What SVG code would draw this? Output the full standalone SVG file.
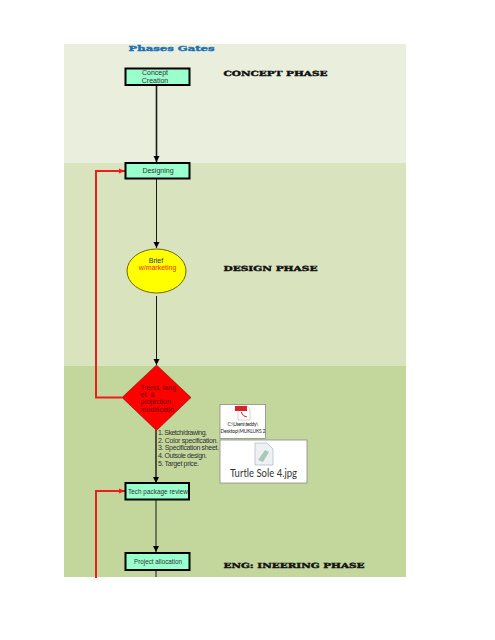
<svg xmlns="http://www.w3.org/2000/svg" width="495" height="640" viewBox="0 0 495 640">
<style>
.n{fill:#99ffcc;stroke:#000;stroke-width:2}
.t{font-family:"Liberation Sans",Arial,sans-serif;font-size:7px;fill:#333;text-anchor:middle}
.d{font-family:"Liberation Sans",Arial,sans-serif;font-size:7px;fill:#6a0a0a}
.l{font-family:"Liberation Sans",Arial,sans-serif;font-size:7px;fill:#333}
.h{font-family:"DejaVu Serif",serif;font-weight:bold;font-size:7px;fill:#111;stroke:#111;stroke-width:.4}
.c{font-family:Lato,sans-serif;fill:#222;text-anchor:middle}
.k{fill:none;stroke:#1a1a1a;stroke-width:1}
.r{fill:none;stroke:#ee1c1c;stroke-width:2}
</style>
<defs>
<marker id="a" markerUnits="userSpaceOnUse" markerWidth="7" markerHeight="7" refX="6" refY="3" orient="auto"><path d="M0 0L6 3L0 6Z" fill="#000"/></marker>
<marker id="b" markerUnits="userSpaceOnUse" markerWidth="7" markerHeight="7" refX="6" refY="3" orient="auto"><path d="M0 0.500L6 3L0 5.500Z" fill="#ee1c1c"/></marker>
</defs>
<rect width="495" height="640" fill="#fff"/>
<g id="bands">
<rect x="64" y="44" width="342" height="119" fill="#e9efdc"/>
<rect x="64" y="163" width="342" height="203" fill="#d9e3bd"/>
<rect x="64" y="366" width="342" height="211" fill="#c3d69b"/>
</g>
<g id="connectors">
<path class="k" style="stroke-width:1.6" d="M156.500 85V162" marker-end="url(#a)"/>
<path class="k" d="M156.500 179V248" marker-end="url(#a)"/>
<path class="k" d="M156.500 296V365" marker-end="url(#a)"/>
<path class="k" style="stroke-width:1.400" d="M156 430V483" marker-end="url(#a)"/>
<path class="k" d="M156 500V552" marker-end="url(#a)"/>
<path class="k" d="M156 571V577"/>
<path class="r" d="M122 397.500H96V171H125" marker-end="url(#b)"/>
<path class="r" d="M96 578V491H125" marker-end="url(#b)"/>
</g>
<text id="title" class="h" x="128.500" y="51" textLength="86" lengthAdjust="spacingAndGlyphs" style="font-size:8px;fill:#1f6fb5;stroke:#1f6fb5">Phases Gates</text>
<g id="concept"><rect class="n" x="125.500" y="68.500" width="64" height="16.500"/><text class="t" x="155" y="74.500">Concept</text><text class="t" x="155" y="82.500">Creation</text></g>
<text class="h" x="223.500" y="75.500" textLength="104" lengthAdjust="spacingAndGlyphs">CONCEPT PHASE</text>
<g id="designing"><rect class="n" x="125.500" y="163" width="64" height="15.500"/><text class="t" x="158" y="173">Designing</text></g>
<g id="brief"><ellipse cx="156.500" cy="271" rx="29.500" ry="22" fill="#ffff00" stroke="#6b6b00" stroke-width="1"/><text class="t" x="156" y="263">Brief</text><text class="t" x="157.500" y="270" style="fill:#ff2a00">w/marketing</text></g>
<text class="h" x="223.500" y="271" textLength="94" lengthAdjust="spacingAndGlyphs">DESIGN PHASE</text>
<g id="decision"><path d="M156.500 365L191 397.500L156.500 430.500L122 397.500Z" fill="#ff0000" stroke="#7a1010" stroke-width="0.600"/>
<text class="d" x="140.500" y="389.500">Trend, Iang</text><text class="d" x="140.500" y="397">et. &amp;</text><text class="d" x="140.500" y="404">projection</text><text class="d" x="140.500" y="411.500">modificatio</text></g>
<g id="list">
<text class="l" x="158" y="434.500" textLength="49">1. Sketch/drawing.</text>
<text class="l" x="158" y="442.500" textLength="60">2. Color specification.</text>
<text class="l" x="158" y="450" textLength="61">3. Specification sheet.</text>
<text class="l" x="158" y="458" textLength="49">4. Outsole design.</text>
<text class="l" x="158" y="466" textLength="41">5. Target price.</text>
</g>
<g id="pdf"><rect x="220" y="404.500" width="45.500" height="34" fill="#fff" stroke="#8a8a8a" stroke-width="0.800"/>
<path d="M238 406H247L250 409V420H238Z" fill="#fff" stroke="#bbb" stroke-width="0.600"/><rect x="235" y="406" width="12" height="5" fill="#d8232a"/><path d="M241 412Q243 417 247 417" fill="none" stroke="#d8232a"/>
<text class="c" x="243" y="426" style="font-size:5px" textLength="31">C:\Users\teddy\</text><text class="c" x="243" y="432.500" style="font-size:5px" textLength="45">Desktop\MUKLUKS 2</text></g>
<g id="jpg"><rect x="220" y="440" width="87" height="43" fill="#fff" stroke="#8a8a8a" stroke-width="0.800"/>
<path d="M255 443H267L273 449V465H255Z" fill="#eef1f4" stroke="#aab" stroke-width="0.600"/><path d="M258 460L265 450L269 452L263 462Z" fill="#a9c9b8"/>
<text class="c" x="263.500" y="477" style="font-size:11px;fill:#333" textLength="67" lengthAdjust="spacingAndGlyphs">Turtle Sole 4.jpg</text></g>
<g id="tech"><rect class="n" x="125.500" y="483" width="63.500" height="16.500"/><text class="t" x="158" y="493.500" textLength="60" lengthAdjust="spacingAndGlyphs">Tech package review</text></g>
<g id="project"><rect class="n" x="125.500" y="553" width="64" height="17"/><text class="t" x="158" y="564" textLength="48" lengthAdjust="spacingAndGlyphs">Project allocation</text></g>
<text class="h" x="223.500" y="567.500" textLength="141" lengthAdjust="spacingAndGlyphs">ENG: INEERING PHASE</text>
</svg>
